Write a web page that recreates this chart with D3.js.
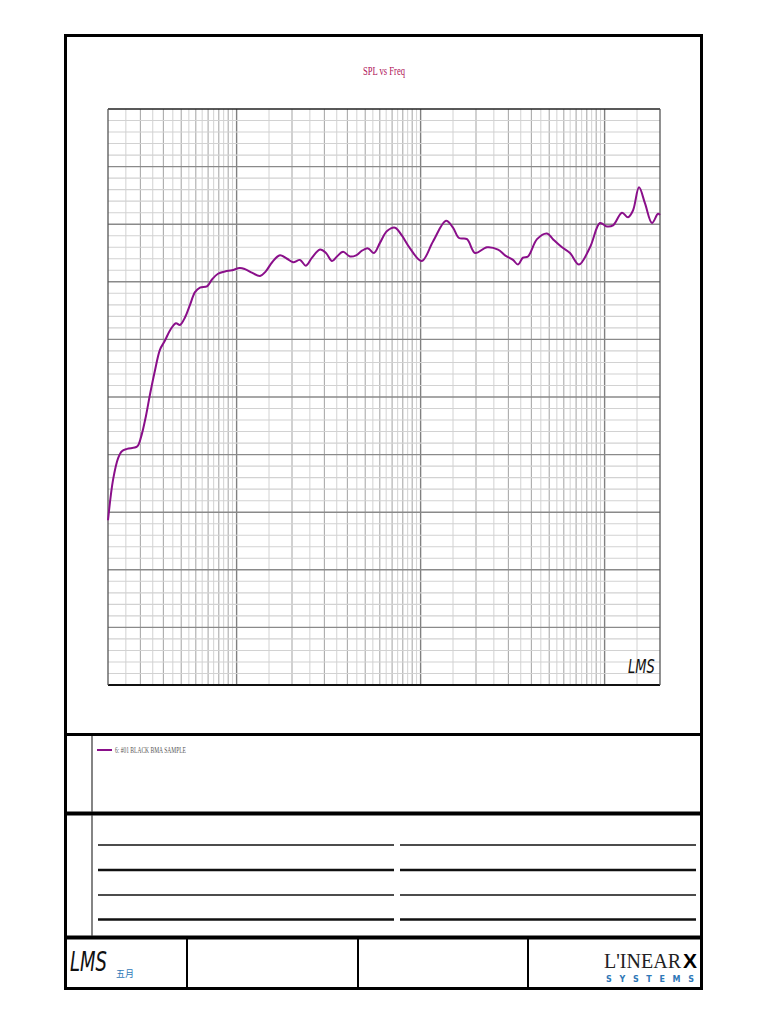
<!DOCTYPE html>
<html><head><meta charset="utf-8">
<script src="https://cdn.jsdelivr.net/npm/d3@7"></script>
<style>body{margin:0;background:#fff}svg{display:block}</style>
</head><body>
<svg id="c" width="768" height="1024"></svg>
<script>
// ---- data ----
const freqs = [20,21.3,22.7,23.8,25.4,28.8,30.2,32.2,33.8,36.0,38.3,40.8,43.5,46.8,49.2,52.4,55.8,59.4,63.2,69.0,73.5,79.2,86.5,94.4,104,111,121,134,144,156,172,188,203,221,238,257,284,306,330,351,379,413,446,480,518,558,602,657,726,792,876,1014,1168,1374,1500,1617,1787,1975,2296,2635,2876,3178,3383,3601,3834,4292,4862,5241,5868,6486,7258,8330,9440,10300,11110,12430,13400,14270,15380,16580,18090,19500,20000];
const spl = [54.3,57.8,59.7,60.3,60.5,60.7,61.5,63.4,65.2,67.3,69.1,69.9,70.8,71.4,71.25,71.9,73.0,74.1,74.5,74.6,75.2,75.7,75.9,76.0,76.2,76.1,75.8,75.5,75.9,76.7,77.3,77.0,76.7,76.9,76.4,77.1,77.8,77.5,76.8,77.2,77.6,77.2,77.3,77.7,77.9,77.5,78.4,79.4,79.7,79.0,77.9,76.8,78.5,80.3,79.7,78.8,78.7,77.5,78.0,77.8,77.3,76.9,76.5,77.1,77.2,78.7,79.2,78.7,78.0,77.5,76.5,78.0,80.1,79.8,79.9,81.0,80.6,81.2,83.2,81.8,80.1,80.9,80.8];
const seriesName = "6: #01 BLACK BMA SAMPLE";
const title = "SPL vs Freq";
const freqDomain = [20, 20000];
const splDomain = [40, 90];
const decades = [20, 100, 1000, 10000];

const svg = d3.select("#c");
const L = 108, R = 660, T = 109, B = 685;
const x = d3.scaleLog().domain(freqDomain).range([L, R]);
const y = d3.scaleLinear().domain(splDomain).range([B, T]);

// outer frame
svg.append("rect").attr("x",65.5).attr("y",35.5).attr("width",636).attr("height",953)
  .attr("fill","none").attr("stroke","#000").attr("stroke-width",3);

// title
svg.append("text").attr("x",384).attr("y",75).attr("text-anchor","middle")
  .attr("font-family","'Liberation Serif', serif").attr("font-size",12.5)
  .attr("textLength",42).attr("lengthAdjust","spacingAndGlyphs")
  .attr("fill","#b0145a").text(title);

// grid - vertical
const g = svg.append("g");
const vt = [];
decades.forEach((d,i)=>{
  const start = d, end = i<decades.length-1 ? decades[i+1] : 20000;
  const base = d===20 ? 10 : d;
  for (let k=2; k<=20; k++){
    const f = base*k/2;
    if (f<=start || f>end) continue;
    vt.push({f, level: (f%base===0) ? ( [100,1000,10000].includes(f) ? 2 : 1) : 0});
  }
});
vt.forEach(t=>{
  if (t.f>=20000) return;
  g.append("line").attr("x1",x(t.f)).attr("x2",x(t.f)).attr("y1",T).attr("y2",B)
    .attr("stroke", t.level===2 ? "#808080" : t.level===1 ? "#ababab" : "#d6d6d6")
    .attr("stroke-width", t.level===2 ? 1.4 : 1.1);
});
// grid - horizontal
d3.range(splDomain[0]+1, splDomain[1], 1).forEach(v=>{
  const major = v%5===0;
  g.append("line").attr("x1",L).attr("x2",R).attr("y1",y(v)).attr("y2",y(v))
    .attr("stroke", major ? "#8a8a8a" : "#d2d2d2").attr("stroke-width", major?1.4:1.1);
});
// plot borders
g.append("line").attr("x1",L).attr("x2",R).attr("y1",T).attr("y2",T).attr("stroke","#222").attr("stroke-width",1.5);
g.append("line").attr("x1",L).attr("x2",R).attr("y1",B).attr("y2",B).attr("stroke","#111").attr("stroke-width",2);
g.append("line").attr("x1",L).attr("x2",L).attr("y1",T).attr("y2",B).attr("stroke","#555").attr("stroke-width",1.3);
g.append("line").attr("x1",R).attr("x2",R).attr("y1",T).attr("y2",B).attr("stroke","#555").attr("stroke-width",1.3);

// curve
const pts = freqs.map((f,i)=>[f, spl[i]]);
svg.append("path").datum(pts)
  .attr("d", d3.line().x(d=>x(d[0])).y(d=>y(d[1])).curve(d3.curveCatmullRom.alpha(0.5)))
  .attr("fill","none").attr("stroke","#8a0f8a").attr("stroke-width",2);

// LMS watermark in plot
svg.append("g").attr("transform","translate(628,673) scale(1,1.45)")
  .append("text").attr("x",0).attr("y",0)
  .attr("font-family","'DejaVu Sans', sans-serif").attr("font-style","italic")
  .attr("font-size",13).attr("fill","#111").text("LMS");

// separators
const hl = (x1,x2,yy,w,c)=>svg.append("line").attr("x1",x1).attr("x2",x2).attr("y1",yy).attr("y2",yy).attr("stroke",c||"#000").attr("stroke-width",w);
const vl = (xx,y1,y2,w,c)=>svg.append("line").attr("x1",xx).attr("x2",xx).attr("y1",y1).attr("y2",y2).attr("stroke",c||"#000").attr("stroke-width",w);
hl(65,702,734.5,3);
hl(65,702,813.5,4);
hl(65,702,937.5,4);
vl(92,736,812,1.2,"#333");
vl(92,815,936,1.2,"#333");

// legend
hl(97,112,750,2,"#8a0f8a");
svg.append("text").attr("x",115).attr("y",752.5).attr("font-family","'Liberation Serif', serif")
  .attr("font-size",7.5).attr("fill","#555").attr("textLength",71).attr("lengthAdjust","spacingAndGlyphs").text(seriesName);

// notes lines
[[845,1.6],[870,2.6],[895,1.6],[919.5,2.6]].forEach(([yy,w])=>{
  hl(98,394,yy,w,"#111"); hl(400,696,yy,w,"#111");
});

// footer
vl(187,939,988,2); vl(358,939,988,2); vl(528,939,988,2);
svg.append("g").attr("transform","translate(70,971) scale(1,1.5)")
  .append("text").attr("x",0).attr("y",0)
  .attr("font-family","'DejaVu Sans', sans-serif").attr("font-style","italic")
  .attr("font-size",18).attr("fill","#111").text("LMS");
svg.append("text").attr("x",116).attr("y",977)
  .attr("font-family","'Noto Sans CJK SC', sans-serif").attr("font-size",9).attr("fill","#2f78b7").text("五月");
svg.append("text").attr("x",604).attr("y",968)
  .attr("font-family","'Liberation Serif', serif").attr("font-size",21).attr("fill","#222")
  .attr("textLength",77).attr("lengthAdjust","spacingAndGlyphs").text("L'INEAR");
svg.append("text").attr("x",683).attr("y",968)
  .attr("font-family","'Liberation Sans', sans-serif").attr("font-weight","bold").attr("font-size",21).attr("fill","#000")
  .attr("textLength",14).attr("lengthAdjust","spacingAndGlyphs").text("X");
svg.append("text").attr("x",606).attr("y",982).attr("font-family","'DejaVu Sans', sans-serif")
  .attr("font-size",8).attr("font-weight","bold").attr("fill","#2f78b7").attr("textLength",88).text("SYSTEMS");
</script>
</body></html>
